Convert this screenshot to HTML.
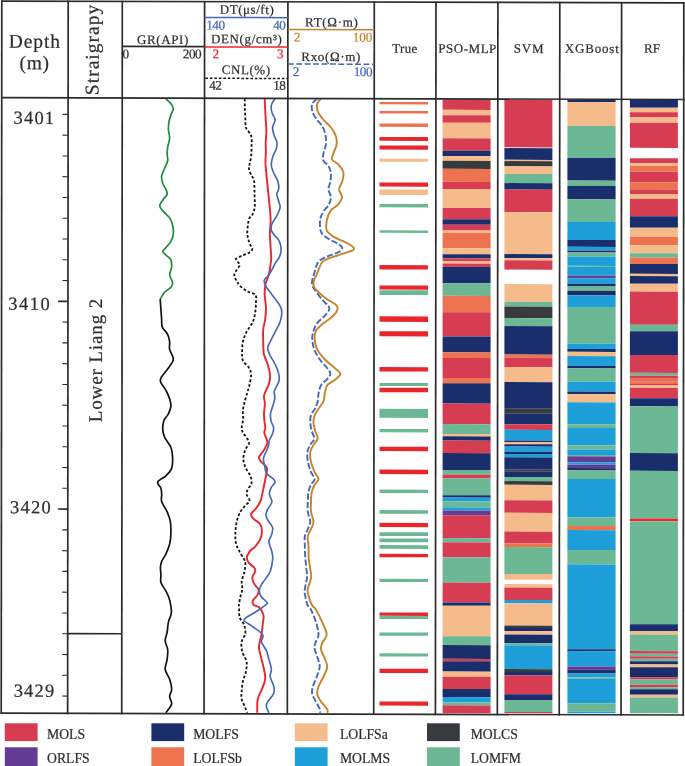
<!DOCTYPE html><html><head><meta charset="utf-8"><title>Well log lithofacies</title>
<style>html,body{margin:0;padding:0;background:#fff}svg{display:block}text{font-family:"Liberation Serif","DejaVu Serif",serif;stroke-width:0.22px;paint-order:stroke}</style></head><body>
<svg width="685" height="766" viewBox="0 0 685 766">
<rect width="685" height="766" fill="#fff"/>
<g transform="matrix(1 0.0026 -0.0008 1 0 0)">
</g><g transform="matrix(1 0.0026 0 1 0 0)">
<rect x="379.5" y="100.9" width="48.5" height="2.40" fill="#EC734D"/>
<rect x="379.5" y="109.9" width="48.5" height="2.50" fill="#EC734D"/>
<rect x="379.5" y="122.4" width="48.5" height="3.40" fill="#EC734D"/>
<rect x="379.5" y="136.0" width="48.5" height="3.80" fill="#E8262B"/>
<rect x="379.5" y="144.4" width="48.5" height="4.20" fill="#E8262B"/>
<rect x="379.5" y="157.7" width="48.5" height="3.00" fill="#F6BB8A"/>
<rect x="379.5" y="181.4" width="48.5" height="4.20" fill="#E8262B"/>
<rect x="379.5" y="188.4" width="48.5" height="5.60" fill="#F6BB8A"/>
<rect x="379.5" y="202.9" width="48.5" height="3.40" fill="#6DB894"/>
<rect x="379.5" y="229.3" width="48.5" height="2.50" fill="#6DB894"/>
<rect x="379.5" y="264.1" width="48.5" height="4.40" fill="#E8262B"/>
<rect x="379.5" y="284.4" width="48.5" height="4.20" fill="#E8262B"/>
<rect x="379.5" y="289.2" width="48.5" height="4.80" fill="#6DB894"/>
<rect x="379.5" y="315.3" width="48.5" height="5.50" fill="#E8262B"/>
<rect x="379.5" y="330.2" width="48.5" height="5.10" fill="#E8262B"/>
<rect x="379.5" y="366.1" width="48.5" height="4.40" fill="#E8262B"/>
<rect x="379.5" y="382.0" width="48.5" height="3.00" fill="#6DB894"/>
<rect x="379.5" y="386.7" width="48.5" height="4.50" fill="#E8262B"/>
<rect x="379.5" y="407.8" width="48.5" height="9.00" fill="#6DB894"/>
<rect x="379.5" y="428.0" width="48.5" height="3.30" fill="#6DB894"/>
<rect x="379.5" y="445.7" width="48.5" height="4.40" fill="#E8262B"/>
<rect x="379.5" y="468.6" width="48.5" height="4.50" fill="#E8262B"/>
<rect x="379.5" y="488.6" width="48.5" height="3.30" fill="#6DB894"/>
<rect x="379.5" y="509.1" width="48.5" height="3.60" fill="#6DB894"/>
<rect x="379.5" y="521.8" width="48.5" height="4.30" fill="#E8262B"/>
<rect x="379.5" y="531.2" width="48.5" height="3.70" fill="#6DB894"/>
<rect x="379.5" y="537.5" width="48.5" height="3.70" fill="#6DB894"/>
<rect x="379.5" y="544.1" width="48.5" height="3.70" fill="#6DB894"/>
<rect x="379.5" y="552.8" width="48.5" height="3.40" fill="#E8262B"/>
<rect x="379.5" y="577.8" width="48.5" height="3.20" fill="#6DB894"/>
<rect x="379.5" y="611.5" width="48.5" height="3.30" fill="#E8262B"/>
<rect x="379.5" y="614.8" width="48.5" height="3.20" fill="#6DB894"/>
<rect x="379.5" y="631.5" width="48.5" height="3.20" fill="#6DB894"/>
<rect x="379.5" y="652.3" width="48.5" height="3.20" fill="#6DB894"/>
<rect x="379.5" y="667.7" width="48.5" height="4.20" fill="#E8262B"/>
<rect x="379.5" y="700.5" width="48.5" height="4.10" fill="#E8262B"/>
<rect x="442.6" y="98.3" width="48.0" height="10.39" fill="#D63D52"/>
<rect x="442.6" y="108.7" width="48.0" height="5.30" fill="#F6BB8A"/>
<rect x="442.6" y="114.0" width="48.0" height="7.50" fill="#D63D52"/>
<rect x="442.6" y="121.5" width="48.0" height="15.60" fill="#F6BB8A"/>
<rect x="442.6" y="137.1" width="48.0" height="12.40" fill="#D63D52"/>
<rect x="442.6" y="149.5" width="48.0" height="5.40" fill="#1A2E6C"/>
<rect x="442.6" y="154.9" width="48.0" height="4.70" fill="#F6BB8A"/>
<rect x="442.6" y="159.6" width="48.0" height="8.00" fill="#373B3E"/>
<rect x="442.6" y="167.6" width="48.0" height="13.10" fill="#EC734D"/>
<rect x="442.6" y="180.7" width="48.0" height="7.10" fill="#D63D52"/>
<rect x="442.6" y="187.8" width="48.0" height="19.00" fill="#F6BB8A"/>
<rect x="442.6" y="206.8" width="48.0" height="11.20" fill="#D63D52"/>
<rect x="442.6" y="218.0" width="48.0" height="5.50" fill="#1A2E6C"/>
<rect x="442.6" y="223.5" width="48.0" height="5.80" fill="#D63D52"/>
<rect x="442.6" y="229.3" width="48.0" height="2.30" fill="#F6BB8A"/>
<rect x="442.6" y="231.6" width="48.0" height="15.50" fill="#EC734D"/>
<rect x="442.6" y="247.1" width="48.0" height="5.90" fill="#F6BB8A"/>
<rect x="442.6" y="253.0" width="48.0" height="4.10" fill="#1A2E6C"/>
<rect x="442.6" y="257.1" width="48.0" height="3.00" fill="#D63D52"/>
<rect x="442.6" y="260.1" width="48.0" height="2.30" fill="#F6BB8A"/>
<rect x="442.6" y="262.4" width="48.0" height="3.30" fill="#D63D52"/>
<rect x="442.6" y="265.7" width="48.0" height="16.30" fill="#1A2E6C"/>
<rect x="442.6" y="282.0" width="48.0" height="12.70" fill="#6DB894"/>
<rect x="442.6" y="294.7" width="48.0" height="16.30" fill="#EC734D"/>
<rect x="442.6" y="311.0" width="48.0" height="24.30" fill="#D63D52"/>
<rect x="442.6" y="335.3" width="48.0" height="15.90" fill="#1A2E6C"/>
<rect x="442.6" y="351.2" width="48.0" height="5.60" fill="#EC734D"/>
<rect x="442.6" y="356.8" width="48.0" height="20.00" fill="#D63D52"/>
<rect x="442.6" y="376.8" width="48.0" height="5.20" fill="#EC734D"/>
<rect x="442.6" y="382.0" width="48.0" height="20.40" fill="#1A2E6C"/>
<rect x="442.6" y="402.4" width="48.0" height="20.50" fill="#D63D52"/>
<rect x="442.6" y="422.9" width="48.0" height="9.90" fill="#6DB894"/>
<rect x="442.6" y="432.8" width="48.0" height="2.30" fill="#F6BB8A"/>
<rect x="442.6" y="435.1" width="48.0" height="4.30" fill="#1A2E6C"/>
<rect x="442.6" y="439.4" width="48.0" height="12.50" fill="#D63D52"/>
<rect x="442.6" y="451.9" width="48.0" height="16.90" fill="#1A2E6C"/>
<rect x="442.6" y="468.8" width="48.0" height="4.60" fill="#6DB894"/>
<rect x="442.6" y="473.4" width="48.0" height="3.80" fill="#D63D52"/>
<rect x="442.6" y="477.2" width="48.0" height="16.80" fill="#6DB894"/>
<rect x="442.6" y="494.0" width="48.0" height="2.40" fill="#1A2E6C"/>
<rect x="442.6" y="496.4" width="48.0" height="3.70" fill="#1F9FD9"/>
<rect x="442.6" y="500.1" width="48.0" height="6.00" fill="#6DB894"/>
<rect x="442.6" y="506.1" width="48.0" height="3.20" fill="#1F9FD9"/>
<rect x="442.6" y="509.3" width="48.0" height="4.70" fill="#633C94"/>
<rect x="442.6" y="514.0" width="48.0" height="22.90" fill="#D63D52"/>
<rect x="442.6" y="536.9" width="48.0" height="4.20" fill="#6DB894"/>
<rect x="442.6" y="541.1" width="48.0" height="14.90" fill="#D63D52"/>
<rect x="442.6" y="556.0" width="48.0" height="25.40" fill="#6DB894"/>
<rect x="442.6" y="581.4" width="48.0" height="19.90" fill="#D63D52"/>
<rect x="442.6" y="601.3" width="48.0" height="3.20" fill="#1A2E6C"/>
<rect x="442.6" y="604.5" width="48.0" height="30.50" fill="#F6BB8A"/>
<rect x="442.6" y="635.0" width="48.0" height="8.90" fill="#6DB894"/>
<rect x="442.6" y="643.9" width="48.0" height="13.80" fill="#1A2E6C"/>
<rect x="442.6" y="657.7" width="48.0" height="2.30" fill="#D63D52"/>
<rect x="442.6" y="660.0" width="48.0" height="10.40" fill="#1A2E6C"/>
<rect x="442.6" y="670.4" width="48.0" height="5.10" fill="#F6BB8A"/>
<rect x="442.6" y="675.5" width="48.0" height="12.30" fill="#D63D52"/>
<rect x="442.6" y="687.8" width="48.0" height="8.10" fill="#1A2E6C"/>
<rect x="442.6" y="695.9" width="48.0" height="5.30" fill="#1F9FD9"/>
<rect x="442.6" y="701.2" width="48.0" height="2.90" fill="#6DB894"/>
<rect x="442.6" y="704.1" width="48.0" height="7.90" fill="#D63D52"/>
<rect x="504.4" y="98.3" width="48.0" height="47.73" fill="#D63D52"/>
<rect x="504.4" y="146.8" width="48.0" height="11.70" fill="#1A2E6C"/>
<rect x="504.4" y="158.5" width="48.0" height="1.30" fill="#F6BB8A"/>
<rect x="504.4" y="159.8" width="48.0" height="5.20" fill="#373B3E"/>
<rect x="504.4" y="165.0" width="48.0" height="7.60" fill="#F6BB8A"/>
<rect x="504.4" y="172.6" width="48.0" height="9.20" fill="#6DB894"/>
<rect x="504.4" y="181.8" width="48.0" height="6.50" fill="#1A2E6C"/>
<rect x="504.4" y="188.3" width="48.0" height="22.50" fill="#D63D52"/>
<rect x="504.4" y="210.8" width="48.0" height="42.00" fill="#F6BB8A"/>
<rect x="504.4" y="252.8" width="48.0" height="4.10" fill="#1A2E6C"/>
<rect x="504.4" y="256.9" width="48.0" height="2.10" fill="#F6BB8A"/>
<rect x="504.4" y="259.0" width="48.0" height="9.30" fill="#D63D52"/>
<rect x="504.4" y="282.7" width="48.0" height="17.80" fill="#F6BB8A"/>
<rect x="504.4" y="300.5" width="48.0" height="4.70" fill="#6DB894"/>
<rect x="504.4" y="305.2" width="48.0" height="11.50" fill="#373B3E"/>
<rect x="504.4" y="316.7" width="48.0" height="8.10" fill="#6DB894"/>
<rect x="504.4" y="324.8" width="48.0" height="28.40" fill="#1A2E6C"/>
<rect x="504.4" y="353.2" width="48.0" height="3.20" fill="#EC734D"/>
<rect x="504.4" y="356.4" width="48.0" height="9.30" fill="#D63D52"/>
<rect x="504.4" y="365.7" width="48.0" height="15.00" fill="#F6BB8A"/>
<rect x="504.4" y="380.7" width="48.0" height="26.70" fill="#1A2E6C"/>
<rect x="504.4" y="407.4" width="48.0" height="5.00" fill="#373B3E"/>
<rect x="504.4" y="412.4" width="48.0" height="10.50" fill="#1A2E6C"/>
<rect x="504.4" y="422.9" width="48.0" height="5.60" fill="#D63D52"/>
<rect x="504.4" y="428.5" width="48.0" height="10.70" fill="#1F9FD9"/>
<rect x="504.4" y="439.2" width="48.0" height="1.50" fill="#1A2E6C"/>
<rect x="504.4" y="440.7" width="48.0" height="2.20" fill="#F6BB8A"/>
<rect x="504.4" y="442.9" width="48.0" height="2.40" fill="#1A2E6C"/>
<rect x="504.4" y="445.3" width="48.0" height="5.10" fill="#1F9FD9"/>
<rect x="504.4" y="450.4" width="48.0" height="2.20" fill="#1A2E6C"/>
<rect x="504.4" y="452.6" width="48.0" height="3.40" fill="#1F9FD9"/>
<rect x="504.4" y="456.0" width="48.0" height="12.20" fill="#1A2E6C"/>
<rect x="504.4" y="468.2" width="48.0" height="2.20" fill="#373B3E"/>
<rect x="504.4" y="470.4" width="48.0" height="5.20" fill="#1A2E6C"/>
<rect x="504.4" y="475.6" width="48.0" height="4.20" fill="#6DB894"/>
<rect x="504.4" y="479.8" width="48.0" height="3.70" fill="#373B3E"/>
<rect x="504.4" y="483.5" width="48.0" height="15.50" fill="#F6BB8A"/>
<rect x="504.4" y="499.0" width="48.0" height="12.50" fill="#D63D52"/>
<rect x="504.4" y="511.5" width="48.0" height="18.70" fill="#F6BB8A"/>
<rect x="504.4" y="530.2" width="48.0" height="11.80" fill="#D63D52"/>
<rect x="504.4" y="542.0" width="48.0" height="3.70" fill="#EC734D"/>
<rect x="504.4" y="545.7" width="48.0" height="26.90" fill="#6DB894"/>
<rect x="504.4" y="572.6" width="48.0" height="5.80" fill="#F6BB8A"/>
<rect x="504.4" y="582.7" width="48.0" height="3.60" fill="#F6BB8A"/>
<rect x="504.4" y="586.3" width="48.0" height="12.30" fill="#D63D52"/>
<rect x="504.4" y="598.6" width="48.0" height="3.40" fill="#1F9FD9"/>
<rect x="504.4" y="602.0" width="48.0" height="22.20" fill="#F6BB8A"/>
<rect x="504.4" y="624.2" width="48.0" height="2.40" fill="#373B3E"/>
<rect x="504.4" y="626.6" width="48.0" height="3.20" fill="#1A2E6C"/>
<rect x="504.4" y="629.8" width="48.0" height="3.40" fill="#F6BB8A"/>
<rect x="504.4" y="633.2" width="48.0" height="8.60" fill="#1A2E6C"/>
<rect x="504.4" y="641.8" width="48.0" height="2.20" fill="#6DB894"/>
<rect x="504.4" y="644.0" width="48.0" height="23.70" fill="#1F9FD9"/>
<rect x="504.4" y="667.7" width="48.0" height="2.90" fill="#373B3E"/>
<rect x="504.4" y="670.6" width="48.0" height="3.40" fill="#1A2E6C"/>
<rect x="504.4" y="674.0" width="48.0" height="18.90" fill="#D63D52"/>
<rect x="504.4" y="692.9" width="48.0" height="5.70" fill="#1A2E6C"/>
<rect x="504.4" y="698.6" width="48.0" height="12.00" fill="#6DB894"/>
<rect x="504.4" y="710.6" width="48.0" height="1.20" fill="#D63D52"/>
<rect x="567.4" y="98.3" width="48.2" height="2.26" fill="#1A2E6C"/>
<rect x="567.4" y="100.6" width="48.2" height="23.70" fill="#F6BB8A"/>
<rect x="567.4" y="124.3" width="48.2" height="32.20" fill="#6DB894"/>
<rect x="567.4" y="156.5" width="48.2" height="22.60" fill="#1A2E6C"/>
<rect x="567.4" y="179.1" width="48.2" height="5.40" fill="#6DB894"/>
<rect x="567.4" y="184.5" width="48.2" height="13.30" fill="#1A2E6C"/>
<rect x="567.4" y="197.8" width="48.2" height="22.70" fill="#6DB894"/>
<rect x="567.4" y="220.5" width="48.2" height="17.90" fill="#1F9FD9"/>
<rect x="567.4" y="238.4" width="48.2" height="6.90" fill="#1A2E6C"/>
<rect x="567.4" y="245.3" width="48.2" height="3.70" fill="#1F9FD9"/>
<rect x="567.4" y="249.0" width="48.2" height="1.90" fill="#1A2E6C"/>
<rect x="567.4" y="250.9" width="48.2" height="4.10" fill="#6DB894"/>
<rect x="567.4" y="255.0" width="48.2" height="9.30" fill="#1F9FD9"/>
<rect x="567.4" y="264.3" width="48.2" height="1.00" fill="#6DB894"/>
<rect x="567.4" y="265.3" width="48.2" height="8.90" fill="#1F9FD9"/>
<rect x="567.4" y="274.2" width="48.2" height="2.50" fill="#633C94"/>
<rect x="567.4" y="276.7" width="48.2" height="5.60" fill="#1F9FD9"/>
<rect x="567.4" y="282.3" width="48.2" height="2.20" fill="#1A2E6C"/>
<rect x="567.4" y="284.5" width="48.2" height="4.70" fill="#6DB894"/>
<rect x="567.4" y="289.2" width="48.2" height="4.60" fill="#1A2E6C"/>
<rect x="567.4" y="293.8" width="48.2" height="11.60" fill="#1F9FD9"/>
<rect x="567.4" y="305.4" width="48.2" height="36.80" fill="#6DB894"/>
<rect x="567.4" y="342.2" width="48.2" height="5.30" fill="#1F9FD9"/>
<rect x="567.4" y="347.5" width="48.2" height="2.80" fill="#1A2E6C"/>
<rect x="567.4" y="350.3" width="48.2" height="4.30" fill="#F6BB8A"/>
<rect x="567.4" y="354.6" width="48.2" height="9.70" fill="#1F9FD9"/>
<rect x="567.4" y="364.3" width="48.2" height="2.50" fill="#1A2E6C"/>
<rect x="567.4" y="366.8" width="48.2" height="13.40" fill="#6DB894"/>
<rect x="567.4" y="380.2" width="48.2" height="9.90" fill="#1F9FD9"/>
<rect x="567.4" y="390.1" width="48.2" height="2.30" fill="#1A2E6C"/>
<rect x="567.4" y="392.4" width="48.2" height="8.40" fill="#F6BB8A"/>
<rect x="567.4" y="400.8" width="48.2" height="22.00" fill="#1F9FD9"/>
<rect x="567.4" y="422.8" width="48.2" height="3.70" fill="#6DB894"/>
<rect x="567.4" y="426.5" width="48.2" height="17.20" fill="#1F9FD9"/>
<rect x="567.4" y="443.7" width="48.2" height="4.20" fill="#6DB894"/>
<rect x="567.4" y="447.9" width="48.2" height="5.60" fill="#1F9FD9"/>
<rect x="567.4" y="453.5" width="48.2" height="1.30" fill="#6DB894"/>
<rect x="567.4" y="454.8" width="48.2" height="6.20" fill="#633C94"/>
<rect x="567.4" y="461.0" width="48.2" height="2.20" fill="#1F9FD9"/>
<rect x="567.4" y="463.2" width="48.2" height="3.40" fill="#633C94"/>
<rect x="567.4" y="466.6" width="48.2" height="2.20" fill="#1A2E6C"/>
<rect x="567.4" y="468.8" width="48.2" height="8.60" fill="#6DB894"/>
<rect x="567.4" y="477.4" width="48.2" height="38.30" fill="#1F9FD9"/>
<rect x="567.4" y="515.7" width="48.2" height="8.80" fill="#6DB894"/>
<rect x="567.4" y="524.5" width="48.2" height="4.10" fill="#EC734D"/>
<rect x="567.4" y="528.6" width="48.2" height="19.80" fill="#1F9FD9"/>
<rect x="567.4" y="548.4" width="48.2" height="14.40" fill="#6DB894"/>
<rect x="567.4" y="562.8" width="48.2" height="84.90" fill="#1F9FD9"/>
<rect x="567.4" y="647.7" width="48.2" height="1.90" fill="#1A2E6C"/>
<rect x="567.4" y="649.6" width="48.2" height="15.40" fill="#1F9FD9"/>
<rect x="567.4" y="665.0" width="48.2" height="3.20" fill="#633C94"/>
<rect x="567.4" y="668.2" width="48.2" height="3.80" fill="#1A2E6C"/>
<rect x="567.4" y="672.0" width="48.2" height="3.80" fill="#1F9FD9"/>
<rect x="567.4" y="675.8" width="48.2" height="1.50" fill="#6DB894"/>
<rect x="567.4" y="677.3" width="48.2" height="24.40" fill="#1F9FD9"/>
<rect x="567.4" y="701.7" width="48.2" height="8.50" fill="#6DB894"/>
<rect x="567.4" y="710.2" width="48.2" height="1.50" fill="#1F9FD9"/>
<rect x="629.9" y="98.3" width="48.0" height="7.70" fill="#1A2E6C"/>
<rect x="629.9" y="106.0" width="48.0" height="4.50" fill="#F6BB8A"/>
<rect x="629.9" y="110.5" width="48.0" height="5.20" fill="#D63D52"/>
<rect x="629.9" y="115.7" width="48.0" height="5.30" fill="#F6BB8A"/>
<rect x="629.9" y="121.0" width="48.0" height="25.20" fill="#D63D52"/>
<rect x="629.9" y="156.5" width="48.0" height="5.00" fill="#D63D52"/>
<rect x="629.9" y="161.5" width="48.0" height="2.80" fill="#F6BB8A"/>
<rect x="629.9" y="164.3" width="48.0" height="5.60" fill="#EC734D"/>
<rect x="629.9" y="169.9" width="48.0" height="10.70" fill="#D63D52"/>
<rect x="629.9" y="180.6" width="48.0" height="7.10" fill="#EC734D"/>
<rect x="629.9" y="187.7" width="48.0" height="4.60" fill="#D63D52"/>
<rect x="629.9" y="192.3" width="48.0" height="4.70" fill="#F6BB8A"/>
<rect x="629.9" y="197.0" width="48.0" height="17.50" fill="#D63D52"/>
<rect x="629.9" y="214.5" width="48.0" height="11.50" fill="#1A2E6C"/>
<rect x="629.9" y="226.0" width="48.0" height="9.20" fill="#F6BB8A"/>
<rect x="629.9" y="235.2" width="48.0" height="8.40" fill="#EC734D"/>
<rect x="629.9" y="243.6" width="48.0" height="8.00" fill="#F6BB8A"/>
<rect x="629.9" y="251.6" width="48.0" height="4.30" fill="#6DB894"/>
<rect x="629.9" y="255.9" width="48.0" height="6.40" fill="#EC734D"/>
<rect x="629.9" y="262.3" width="48.0" height="9.90" fill="#1A2E6C"/>
<rect x="629.9" y="272.2" width="48.0" height="2.20" fill="#F6BB8A"/>
<rect x="629.9" y="274.4" width="48.0" height="7.70" fill="#1A2E6C"/>
<rect x="629.9" y="282.1" width="48.0" height="7.80" fill="#F6BB8A"/>
<rect x="629.9" y="289.9" width="48.0" height="33.10" fill="#D63D52"/>
<rect x="629.9" y="323.0" width="48.0" height="6.50" fill="#6DB894"/>
<rect x="629.9" y="329.5" width="48.0" height="23.80" fill="#1A2E6C"/>
<rect x="629.9" y="353.3" width="48.0" height="17.90" fill="#D63D52"/>
<rect x="629.9" y="371.2" width="48.0" height="2.80" fill="#6DB894"/>
<rect x="629.9" y="374.0" width="48.0" height="2.30" fill="#D63D52"/>
<rect x="629.9" y="376.3" width="48.0" height="2.30" fill="#EC734D"/>
<rect x="629.9" y="378.6" width="48.0" height="1.20" fill="#D63D52"/>
<rect x="629.9" y="379.8" width="48.0" height="2.50" fill="#EC734D"/>
<rect x="629.9" y="382.3" width="48.0" height="1.40" fill="#D63D52"/>
<rect x="629.9" y="383.7" width="48.0" height="2.50" fill="#F6BB8A"/>
<rect x="629.9" y="386.2" width="48.0" height="10.30" fill="#D63D52"/>
<rect x="629.9" y="396.5" width="48.0" height="8.20" fill="#1A2E6C"/>
<rect x="629.9" y="404.7" width="48.0" height="46.70" fill="#6DB894"/>
<rect x="629.9" y="451.4" width="48.0" height="17.80" fill="#1A2E6C"/>
<rect x="629.9" y="469.2" width="48.0" height="47.60" fill="#6DB894"/>
<rect x="629.9" y="516.8" width="48.0" height="2.80" fill="#E8262B"/>
<rect x="629.9" y="519.6" width="48.0" height="102.90" fill="#6DB894"/>
<rect x="629.9" y="622.5" width="48.0" height="7.00" fill="#1A2E6C"/>
<rect x="629.9" y="629.5" width="48.0" height="3.40" fill="#F6BB8A"/>
<rect x="629.9" y="632.9" width="48.0" height="16.50" fill="#6DB894"/>
<rect x="629.9" y="649.4" width="48.0" height="2.70" fill="#D63D52"/>
<rect x="629.9" y="652.1" width="48.0" height="2.60" fill="#6DB894"/>
<rect x="629.9" y="654.7" width="48.0" height="2.30" fill="#D63D52"/>
<rect x="629.9" y="657.0" width="48.0" height="2.50" fill="#6DB894"/>
<rect x="629.9" y="659.5" width="48.0" height="3.20" fill="#1A2E6C"/>
<rect x="629.9" y="662.7" width="48.0" height="2.80" fill="#F6BB8A"/>
<rect x="629.9" y="665.5" width="48.0" height="10.10" fill="#1A2E6C"/>
<rect x="629.9" y="675.6" width="48.0" height="2.20" fill="#D63D52"/>
<rect x="629.9" y="677.8" width="48.0" height="5.30" fill="#6DB894"/>
<rect x="629.9" y="683.1" width="48.0" height="2.30" fill="#D63D52"/>
<rect x="629.9" y="685.4" width="48.0" height="2.10" fill="#6DB894"/>
<rect x="629.9" y="687.5" width="48.0" height="5.50" fill="#1A2E6C"/>
<rect x="629.9" y="693.0" width="48.0" height="2.80" fill="#F6BB8A"/>
<rect x="629.9" y="695.8" width="48.0" height="15.70" fill="#6DB894"/>
</g><g transform="matrix(1 0.0026 -0.0008 1 0 0)">
<clipPath id="cp"><rect x="0" y="98.4" width="685" height="614.2"/></clipPath>
<g clip-path="url(#cp)" fill="none" stroke-linejoin="round">
<path d="M166.0 98.3C166.8 99.1 169.7 101.6 171.0 103.2C172.2 104.9 173.4 106.3 173.4 108.2C173.4 110.1 171.7 112.1 171.0 114.4C170.2 116.7 169.4 119.4 169.0 121.9C168.6 124.3 168.4 126.6 168.5 129.3C168.6 132.0 169.9 135.1 169.7 138.0C169.6 140.9 168.2 144.0 167.8 146.7C167.4 149.4 167.3 151.9 167.3 154.1C167.3 156.4 168.2 158.1 167.8 160.3C167.4 162.6 165.8 165.3 164.8 167.8C163.8 170.3 162.2 172.8 161.8 175.2C161.5 177.7 162.1 180.4 162.8 182.7C163.5 185.0 165.3 187.0 166.1 188.9C166.8 190.7 167.7 192.2 167.3 193.8C166.9 195.5 164.8 196.9 163.6 198.8C162.4 200.7 159.9 203.0 159.9 205.0C159.9 207.1 161.9 209.2 163.6 211.2C165.3 213.3 168.3 215.1 169.8 217.4C171.3 219.7 172.2 222.2 172.8 224.8C173.4 227.5 173.8 230.8 173.5 233.5C173.3 236.2 172.3 238.7 171.1 241.0C169.8 243.3 167.5 245.5 166.1 247.2C164.7 248.9 162.9 249.7 162.9 250.9C162.9 252.2 164.8 253.1 166.1 254.6C167.5 256.0 170.1 257.5 171.1 259.5C172.0 261.6 172.0 264.5 171.8 267.0C171.6 269.4 169.7 271.9 169.9 274.4C170.0 276.9 172.6 279.8 172.8 281.9C173.0 283.9 172.4 285.2 171.1 286.8C169.8 288.5 166.7 289.8 164.9 291.8C163.1 293.8 161.2 297.6 160.4 298.8" stroke="#1f8a3d" stroke-width="1.7"/>
<path d="M160.4 298.8C160.6 300.5 160.9 305.8 161.2 309.2C161.4 312.6 161.7 316.2 161.9 319.1C162.2 322.0 161.5 324.1 162.5 326.5C163.4 329.0 166.7 331.5 167.9 334.0C169.2 336.5 169.6 338.9 169.9 341.4C170.2 343.9 169.3 346.0 169.9 348.9C170.5 351.8 173.8 355.7 173.6 358.8C173.4 361.9 170.8 364.4 168.7 367.5C166.6 370.6 162.5 374.9 161.3 377.4C160.0 379.9 160.4 380.3 161.3 382.4C162.1 384.5 164.8 387.1 166.2 389.8C167.7 392.5 169.1 395.8 170.0 398.5C170.8 401.2 171.4 403.5 171.2 405.9C171.0 408.4 169.8 411.1 168.7 413.4C167.6 415.7 165.5 417.1 164.5 419.5C163.6 422.0 162.9 425.3 163.0 428.2C163.1 431.1 163.7 433.8 165.0 436.9C166.4 440.0 169.9 443.3 171.2 446.8C172.6 450.3 172.9 454.5 173.0 458.0C173.1 461.5 173.1 465.0 172.0 467.9C170.9 470.8 168.6 473.1 166.3 475.4C164.0 477.7 158.9 479.5 158.1 481.6C157.3 483.7 160.7 485.7 161.3 487.8C162.0 489.9 162.0 491.7 162.1 494.0C162.2 496.3 161.2 498.5 162.1 501.4C163.0 504.3 166.1 508.0 167.6 511.4C169.0 514.7 170.2 517.6 170.8 521.3C171.4 525.0 171.4 530.0 171.3 533.7C171.2 537.4 170.9 540.3 170.1 543.6C169.2 546.9 167.7 550.6 166.4 553.5C165.0 556.4 163.1 558.7 162.1 561.0C161.2 563.3 161.0 564.9 160.9 567.2C160.8 569.5 161.3 572.1 161.4 574.6C161.5 577.1 160.6 579.3 161.4 582.0C162.2 584.7 164.9 587.8 166.4 590.7C167.8 593.6 169.2 595.9 170.1 599.4C171.0 602.9 172.1 608.1 171.9 611.8C171.7 615.5 169.6 618.4 168.9 621.7C168.2 625.0 168.2 628.5 167.7 631.6C167.1 634.7 165.6 637.4 165.7 640.3C165.8 643.2 167.8 645.9 168.2 649.0C168.5 652.1 168.1 655.6 167.7 658.9C167.3 662.3 165.3 665.6 165.7 668.9C166.1 672.2 169.1 675.5 170.2 678.8C171.3 682.1 172.2 685.8 172.2 688.7C172.2 691.6 170.2 693.7 170.2 696.2C170.2 698.6 172.8 700.9 172.2 703.6C171.6 706.3 167.4 710.9 166.5 712.3" stroke="#111" stroke-width="1.7"/>
<path d="M244.9 98.1C244.9 99.5 244.8 103.7 244.9 106.8C245.0 109.9 245.3 113.4 245.4 116.7C245.6 120.0 245.3 124.1 245.9 126.6C246.5 129.1 248.2 129.9 249.2 131.6C250.1 133.2 251.2 134.1 251.6 136.5C252.1 139.0 251.7 143.2 251.7 146.5C251.6 149.8 251.5 153.5 251.2 156.4C250.8 159.3 250.0 161.8 249.7 163.8C249.3 165.9 248.9 166.9 249.2 168.8C249.5 170.7 250.8 173.1 251.7 175.0C252.5 176.9 253.7 176.9 254.2 180.0C254.7 183.1 254.5 189.3 254.7 193.6C254.8 198.0 255.2 202.7 254.9 206.0C254.6 209.3 253.9 211.4 252.9 213.5C252.0 215.5 250.1 215.6 249.2 218.4C248.3 221.3 247.7 227.6 247.5 230.7C247.3 233.7 247.7 234.9 248.1 237.0C248.5 239.0 249.3 241.3 250.0 243.2C250.7 245.0 252.6 246.8 252.5 248.2C252.4 249.7 251.2 250.8 249.4 252.0C247.6 253.1 244.1 254.1 241.9 255.2C239.7 256.2 236.8 257.3 236.2 258.3C235.6 259.3 237.5 260.3 238.1 261.4C238.7 262.4 240.1 263.4 240.0 264.6C239.9 265.7 238.4 266.8 237.5 268.3C236.6 269.8 235.1 271.9 234.7 273.4C234.3 274.9 234.6 275.8 235.0 277.1C235.5 278.3 236.8 279.7 237.5 280.9C238.3 282.1 237.9 282.8 239.4 284.4C241.0 286.0 244.1 288.7 246.8 290.3C249.5 292.0 253.9 292.2 255.5 294.0C257.1 295.9 256.2 298.6 256.2 301.5C256.2 304.4 256.0 308.1 255.5 311.4C255.0 314.7 254.5 318.0 253.0 321.4C251.6 324.7 248.5 328.0 246.8 331.3C245.2 334.6 243.9 337.7 243.1 341.2C242.4 344.7 242.4 349.3 242.4 352.4C242.4 355.5 242.0 357.4 243.1 359.8C244.3 362.3 248.0 364.8 249.3 367.3C250.7 369.8 251.3 371.6 251.3 374.7C251.3 377.8 250.0 383.0 249.4 385.9C248.7 388.7 248.3 389.4 247.6 391.9C246.9 394.3 245.9 397.7 245.1 400.7C244.4 403.6 243.5 406.5 243.2 409.5C243.0 412.4 243.7 415.3 243.5 418.3C243.3 421.2 242.1 424.8 242.0 427.1C242.0 429.4 242.4 430.4 243.2 432.1C244.1 433.7 246.0 435.3 247.1 437.1C248.1 438.8 249.5 440.7 249.3 442.8C249.0 444.8 246.6 446.6 245.7 449.1C244.8 451.6 243.7 454.9 243.7 457.8C243.7 460.7 244.5 463.6 245.7 466.5C246.9 469.4 249.6 472.5 250.7 475.2C251.7 477.8 252.3 480.3 251.9 482.6C251.5 484.9 249.0 486.9 248.2 488.8C247.4 490.7 246.7 491.9 247.0 493.8C247.3 495.6 250.2 498.1 249.9 500.0C249.7 501.8 247.3 503.1 245.7 504.9C244.2 506.8 242.2 508.5 240.8 511.2C239.3 513.9 237.9 517.4 237.1 521.1C236.2 524.8 235.9 529.8 235.8 533.5C235.7 537.2 235.8 540.5 236.6 543.4C237.3 546.4 238.9 548.7 240.2 551.3C241.6 553.8 243.7 556.8 244.6 558.8C245.6 560.7 245.8 561.1 245.9 563.2C245.9 565.3 245.5 568.4 244.9 571.4C244.2 574.3 242.5 578.0 242.2 580.8C241.8 583.6 243.0 585.8 242.8 588.3C242.6 590.8 241.4 593.2 240.9 595.9C240.3 598.6 239.6 602.6 239.4 604.4C239.2 606.2 239.5 604.6 239.6 606.6C239.7 608.7 239.3 613.7 240.1 616.6C240.9 619.5 243.6 621.3 244.6 624.0C245.5 626.7 246.2 629.8 245.8 632.7C245.4 635.6 242.6 638.3 242.1 641.4C241.6 644.5 242.0 648.0 242.9 651.3C243.7 654.6 246.5 657.9 247.1 661.2C247.7 664.5 247.0 667.8 246.4 671.1C245.7 674.5 244.1 677.8 243.4 681.1C242.7 684.4 242.4 688.1 242.2 691.0C242.0 693.9 241.6 696.0 242.2 698.5C242.7 700.9 244.5 703.6 245.4 705.9C246.3 708.2 247.3 711.1 247.6 712.1" stroke="#111" stroke-width="1.8" stroke-dasharray="2.7 2"/>
<path d="M264.8 98.0C264.8 99.9 265.1 105.3 265.3 109.2C265.5 113.1 265.8 117.9 266.0 121.6C266.2 125.3 266.6 128.2 266.5 131.5C266.5 134.8 265.9 138.2 265.8 141.5C265.7 144.8 266.1 148.1 266.0 151.4C266.0 154.7 265.5 157.6 265.6 161.3C265.6 165.0 266.2 169.6 266.6 173.7C266.9 177.9 267.4 182.0 267.8 186.1C268.2 190.3 268.6 194.4 269.1 198.5C269.5 202.7 270.0 207.2 270.3 210.9C270.6 214.7 270.9 217.4 270.8 220.9C270.8 224.3 270.2 228.5 270.1 231.8C270.0 235.1 270.2 237.7 270.4 240.6C270.5 243.5 270.8 246.5 271.0 249.4C271.2 252.3 271.5 255.5 271.4 258.2C271.3 260.9 270.8 263.4 270.5 265.7C270.2 268.0 270.0 269.9 269.5 272.0C269.0 274.1 268.3 276.4 267.6 278.3C267.0 280.2 266.2 280.7 265.7 283.3C265.3 285.9 264.8 290.2 264.9 294.0C265.0 297.9 266.1 302.3 266.2 306.4C266.3 310.6 265.9 315.1 265.4 318.8C265.0 322.6 263.8 325.0 263.5 328.8C263.1 332.5 263.3 337.0 263.5 341.2C263.6 345.3 263.5 349.9 264.2 353.6C265.0 357.3 266.9 360.0 268.0 363.5C269.0 367.0 270.2 371.4 270.4 374.7C270.7 378.0 269.9 380.9 269.2 383.4C268.5 385.8 267.2 387.3 266.4 389.3C265.6 391.4 264.5 393.3 264.3 395.6C264.1 397.9 265.2 400.2 265.2 403.1C265.2 406.0 264.4 410.3 264.3 413.2C264.3 416.1 264.6 418.4 264.8 420.7C265.1 423.0 265.7 425.1 265.6 427.0C265.6 428.9 264.5 430.3 264.6 432.0C264.8 433.7 265.9 435.4 266.5 437.0C267.0 438.6 267.7 440.2 267.8 441.4C267.8 442.6 267.5 442.8 266.9 444.3C266.2 445.8 265.1 448.3 263.8 450.3C262.6 452.3 259.7 454.7 259.3 456.5C259.0 458.4 260.5 459.6 261.8 461.5C263.2 463.3 266.7 464.8 267.3 467.7C267.9 470.6 266.3 474.9 265.6 478.8C264.9 482.8 263.9 487.5 263.1 491.3C262.3 495.0 261.9 498.3 260.6 501.2C259.4 504.1 257.2 506.6 255.7 508.6C254.1 510.7 251.7 512.0 251.4 513.6C251.2 515.3 252.9 516.9 254.4 518.6C256.0 520.2 259.3 521.5 260.6 523.5C262.0 525.6 262.4 528.5 262.4 531.0C262.4 533.4 261.8 535.9 260.7 538.4C259.5 540.9 257.2 544.0 255.7 545.9C254.2 547.7 252.9 547.6 251.5 549.3C250.1 551.1 247.8 554.2 247.3 556.3C246.9 558.4 247.8 560.2 249.1 562.0C250.3 563.7 253.6 565.5 254.7 566.9C255.8 568.4 256.0 569.1 255.7 570.7C255.3 572.4 252.9 574.9 252.8 576.9C252.6 579.0 253.6 581.2 254.7 583.2C255.7 585.2 258.5 587.0 259.1 588.9C259.6 590.8 258.8 592.8 257.9 594.5C256.9 596.3 254.1 597.9 253.5 599.5C252.8 601.2 253.1 603.2 254.1 604.3C255.1 605.5 257.8 605.0 259.5 606.6C261.1 608.2 263.3 611.1 263.9 614.0C264.6 616.9 263.5 620.6 263.2 624.0C262.9 627.3 262.6 630.2 262.0 633.9C261.4 637.6 259.6 642.6 259.5 646.3C259.4 650.0 260.7 652.5 261.5 656.2C262.3 659.9 263.8 664.9 264.5 668.6C265.2 672.3 266.1 675.2 265.7 678.5C265.4 681.9 263.7 685.2 262.5 688.5C261.3 691.8 259.1 694.5 258.3 698.4C257.5 702.3 257.9 709.8 257.8 712.1" stroke="#E8262B" stroke-width="1.9"/>
<path d="M275.2 98.0C274.6 99.0 272.0 101.9 271.5 104.2C270.9 106.5 271.4 109.2 272.0 111.7C272.6 114.1 275.1 116.6 275.2 119.1C275.3 121.6 272.9 124.1 272.7 126.6C272.5 129.0 273.3 131.5 274.0 134.0C274.7 136.5 276.5 139.2 277.0 141.4C277.4 143.7 277.2 145.2 276.5 147.6C275.8 150.1 273.6 153.4 272.8 156.3C271.9 159.2 271.3 162.3 271.5 165.0C271.7 167.7 273.0 170.0 274.0 172.5C275.0 174.9 276.9 177.4 277.7 179.9C278.6 182.4 279.1 185.1 279.0 187.3C278.9 189.6 277.0 191.3 277.0 193.6C277.0 195.8 278.5 198.7 279.0 201.0C279.5 203.3 280.7 204.7 280.2 207.2C279.8 209.7 277.9 213.2 276.5 215.9C275.2 218.6 272.9 221.1 272.1 223.3C271.2 225.6 271.0 227.5 271.4 229.3C271.8 231.1 273.2 232.6 274.5 234.3C275.7 236.0 277.8 237.5 278.9 239.4C280.0 241.3 280.6 243.5 281.0 245.6C281.3 247.7 281.4 249.9 281.0 251.9C280.7 253.9 279.9 255.7 278.9 257.6C277.9 259.5 276.2 261.4 275.1 263.2C274.1 265.0 273.6 266.3 272.6 268.2C271.6 270.1 270.3 272.6 268.9 274.5C267.6 276.4 265.2 278.0 264.5 279.5C263.9 281.0 264.8 282.1 265.1 283.3C265.5 284.5 265.2 284.4 266.7 286.6C268.1 288.8 271.8 293.4 274.1 296.5C276.4 299.6 279.0 302.7 280.3 305.1C281.6 307.6 282.1 308.7 282.1 311.3C282.1 314.0 281.4 318.0 280.3 321.3C279.2 324.6 277.0 327.9 275.4 331.2C273.7 334.5 271.7 338.5 270.4 341.2C269.2 343.9 267.9 345.1 267.9 347.4C267.9 349.6 269.2 352.1 270.4 354.8C271.7 357.5 274.0 360.4 275.4 363.5C276.9 366.6 278.5 370.5 279.1 373.4C279.8 376.3 279.9 378.0 279.1 380.8C278.4 383.7 275.3 387.9 274.6 390.6C274.0 393.3 275.4 394.6 275.2 396.9C275.0 399.2 274.2 401.7 273.4 404.4C272.7 407.1 271.1 410.5 270.8 413.2C270.5 415.9 271.0 418.4 271.5 420.7C272.1 423.0 273.8 424.9 274.0 427.0C274.2 429.1 273.5 431.2 272.7 433.3C272.0 435.4 270.3 437.7 269.7 439.5C269.0 441.3 269.5 442.5 269.1 444.3C268.6 446.1 267.7 448.1 266.8 450.3C265.9 452.5 264.1 455.3 263.8 457.7C263.5 460.2 264.6 462.7 265.1 465.2C265.6 467.7 265.5 470.6 266.8 472.6C268.1 474.7 271.6 476.1 273.0 477.6C274.5 479.0 275.8 479.6 275.5 481.3C275.2 482.9 272.2 485.4 271.3 487.5C270.3 489.6 269.6 491.4 269.8 493.7C270.0 496.0 272.6 498.7 272.3 501.2C272.0 503.6 269.1 506.3 268.1 508.6C267.1 510.9 266.1 512.8 266.3 514.8C266.5 516.9 268.2 519.0 269.3 521.0C270.4 523.1 272.6 524.9 273.1 527.2C273.5 529.5 272.4 532.4 271.8 534.7C271.2 536.9 269.3 538.2 269.3 540.9C269.4 543.5 271.6 547.9 272.2 550.6C272.9 553.3 273.2 554.6 273.2 556.9C273.2 559.2 272.7 562.0 272.3 564.4C271.8 566.8 271.4 569.0 270.4 571.3C269.3 573.6 267.4 576.0 266.0 578.2C264.5 580.4 262.6 582.5 261.6 584.5C260.5 586.5 259.7 588.2 259.7 590.1C259.7 592.0 260.5 594.1 261.6 595.8C262.6 597.5 265.0 599.0 266.0 600.2C266.9 601.5 269.0 601.4 267.3 603.3C265.6 605.2 259.5 608.9 255.7 611.6C252.0 614.2 245.2 616.8 244.6 619.0C244.0 621.3 248.9 622.7 252.0 625.2C255.1 627.7 261.6 631.2 263.2 633.9C264.9 636.6 261.4 638.6 262.0 641.3C262.6 644.0 265.7 647.1 266.9 650.0C268.2 652.9 268.6 655.6 269.4 658.7C270.3 661.8 271.7 665.7 271.9 668.6C272.1 671.5 270.3 673.2 270.7 676.0C271.1 678.9 273.9 683.1 274.4 686.0C275.0 688.9 275.0 690.9 273.9 693.4C272.9 695.9 269.4 698.8 268.2 700.9C267.1 702.9 266.8 704.0 267.0 705.8C267.2 707.7 269.1 711.0 269.5 712.0" stroke="#4468B8" stroke-width="1.65"/>
<path d="M317.3 97.9C316.5 98.7 313.2 100.8 312.3 102.9C311.5 104.9 311.7 107.8 312.4 110.3C313.0 112.8 314.4 115.3 316.1 117.8C317.7 120.2 320.7 122.5 322.3 125.2C323.9 127.9 324.9 130.8 325.5 133.9C326.1 137.0 326.4 140.7 326.0 143.8C325.7 146.9 324.0 149.8 323.6 152.5C323.1 155.2 322.7 157.9 323.6 159.9C324.4 162.0 327.3 162.8 328.5 164.9C329.8 166.9 330.7 169.6 331.0 172.3C331.3 175.0 330.9 178.3 330.5 181.0C330.1 183.7 328.5 186.0 328.5 188.5C328.6 190.9 330.9 193.4 331.0 195.9C331.2 198.4 330.5 200.9 329.3 203.3C328.1 205.8 325.1 208.3 323.6 210.8C322.1 213.3 320.9 215.2 320.4 218.3C319.9 221.3 320.1 226.5 320.6 229.2C321.1 231.8 321.9 232.6 323.4 234.2C324.9 235.7 327.3 237.2 329.6 238.5C331.9 239.9 335.2 241.2 337.2 242.3C339.2 243.5 340.8 244.5 341.6 245.4C342.4 246.4 342.6 247.1 342.2 248.0C341.8 249.0 340.9 250.1 339.0 251.1C337.1 252.2 333.5 253.2 330.9 254.2C328.3 255.3 325.4 256.4 323.4 257.5C321.4 258.5 320.2 259.2 319.0 260.6C317.8 261.9 317.1 263.7 316.4 265.6C315.7 267.5 315.2 269.8 314.6 271.9C314.0 274.0 313.1 276.1 312.7 278.2C312.3 280.2 312.0 282.4 312.3 284.2C312.7 286.0 313.3 286.5 315.0 288.9C316.7 291.4 320.2 296.2 322.4 298.8C324.7 301.5 327.5 303.4 328.6 305.0C329.8 306.7 330.0 307.1 329.4 308.7C328.8 310.4 326.9 312.7 324.9 315.0C322.9 317.2 319.3 319.9 317.5 322.4C315.6 324.9 314.6 327.2 313.8 329.9C312.9 332.6 312.4 335.5 312.5 338.6C312.7 341.7 313.3 345.2 314.5 348.5C315.8 351.8 317.8 355.3 320.0 358.4C322.1 361.5 325.7 364.7 327.4 367.1C329.2 369.5 330.7 370.9 330.7 372.8C330.7 374.6 329.0 376.3 327.5 378.2C325.9 380.2 322.7 382.0 321.3 384.5C319.8 386.9 319.3 390.5 318.8 393.2C318.2 395.8 318.7 398.1 318.0 400.6C317.4 403.1 316.2 405.8 315.1 408.1C314.0 410.3 312.1 411.9 311.4 414.2C310.6 416.5 310.5 419.0 310.6 421.6C310.7 424.3 311.4 427.6 312.1 430.3C312.8 433.0 314.8 435.5 314.6 437.8C314.4 440.0 311.8 441.7 310.6 444.0C309.5 446.3 308.0 448.5 307.7 451.4C307.3 454.3 307.8 458.0 308.4 461.4C309.0 464.7 310.3 468.5 311.4 471.3C312.5 474.1 315.1 476.1 315.1 478.2C315.1 480.3 312.4 481.5 311.4 483.7C310.4 485.8 309.5 488.2 308.9 491.1C308.4 494.0 308.3 497.8 308.2 501.1C308.1 504.4 307.8 507.7 308.2 511.0C308.6 514.3 310.7 518.0 310.7 520.9C310.7 523.8 309.1 525.9 308.2 528.4C307.3 530.8 305.7 532.9 305.2 535.8C304.8 538.7 305.2 542.2 305.3 545.7C305.3 549.2 305.5 553.3 305.7 556.8C306.0 560.3 306.4 563.7 306.7 566.8C307.0 569.9 307.6 572.9 307.6 575.6C307.5 578.3 306.7 580.6 306.3 583.1C305.9 585.6 305.1 588.4 305.1 590.7C305.0 593.0 305.6 594.7 306.1 596.9C306.6 599.2 307.1 602.2 308.0 604.2C308.9 606.2 310.1 606.1 311.5 608.9C312.9 611.8 315.2 617.2 316.5 621.3C317.7 625.5 319.1 630.2 319.0 633.7C318.9 637.3 316.4 639.9 315.8 642.4C315.1 644.9 314.8 646.2 315.3 648.6C315.7 651.1 317.4 654.4 318.2 657.3C319.1 660.2 320.4 662.9 320.2 666.0C320.1 669.1 318.4 672.6 317.3 675.9C316.1 679.2 314.1 683.0 313.3 685.9C312.6 688.8 312.3 690.8 312.8 693.3C313.4 695.8 315.3 698.3 316.5 700.7C317.8 703.2 319.6 706.3 320.3 708.2C321.0 710.0 320.7 711.3 320.8 711.9" stroke="#4468B8" stroke-width="1.9" stroke-dasharray="6.2 2.2"/>
<path d="M321.0 97.9C320.4 98.7 317.8 100.8 317.3 102.9C316.8 104.9 316.8 107.6 317.8 110.3C318.8 113.0 321.3 116.3 323.5 119.0C325.7 121.7 328.9 123.7 331.0 126.4C333.0 129.1 335.0 132.2 335.9 135.1C336.9 138.0 337.1 140.9 336.7 143.8C336.3 146.7 334.2 150.0 333.5 152.5C332.7 154.9 331.4 156.8 332.2 158.7C333.1 160.5 336.6 161.5 338.5 163.6C340.3 165.7 342.7 168.4 343.4 171.0C344.1 173.7 343.4 176.8 342.7 179.7C342.0 182.6 339.3 185.7 339.2 188.4C339.1 191.1 342.3 193.4 342.2 195.9C342.1 198.3 340.3 201.0 338.5 203.3C336.6 205.6 332.9 207.1 331.0 209.5C329.2 212.0 328.1 215.2 327.3 218.2C326.6 221.3 326.3 225.7 326.5 228.0C326.7 230.2 327.1 230.3 328.4 231.6C329.6 233.0 331.7 234.7 334.0 236.0C336.3 237.4 339.6 238.6 342.2 239.8C344.8 241.1 347.7 242.3 349.7 243.6C351.7 244.8 353.7 246.2 354.1 247.3C354.5 248.3 353.8 248.9 352.2 249.8C350.6 250.6 347.6 251.3 344.7 252.3C341.8 253.3 337.8 254.5 334.7 255.5C331.6 256.6 328.1 257.6 325.9 258.7C323.8 259.7 322.9 260.5 321.8 261.9C320.8 263.2 320.4 265.0 319.6 266.9C318.8 268.8 318.0 271.3 317.1 273.2C316.3 275.1 315.2 276.3 314.6 278.2C314.1 280.0 313.5 282.4 313.7 284.2C314.0 286.0 314.1 286.7 316.2 288.9C318.3 291.2 322.8 295.1 326.2 297.6C329.5 300.1 334.1 302.0 336.1 303.8C338.0 305.5 338.2 306.4 337.8 308.2C337.4 310.1 336.0 312.6 333.6 314.9C331.3 317.3 326.6 319.9 323.7 322.4C320.8 324.9 317.7 327.2 316.2 329.9C314.8 332.6 314.8 335.5 315.0 338.6C315.2 341.7 315.8 345.2 317.5 348.5C319.2 351.8 322.1 355.3 325.0 358.4C327.9 361.5 332.3 364.7 334.9 367.0C337.5 369.4 340.4 370.9 340.6 372.7C340.8 374.6 338.3 376.3 336.1 378.2C334.0 380.2 329.3 382.0 327.5 384.4C325.6 386.9 325.6 390.4 325.0 393.1C324.4 395.8 324.8 398.1 323.8 400.6C322.7 403.1 320.2 405.8 318.8 408.0C317.3 410.3 315.9 411.9 315.1 414.2C314.3 416.4 313.8 418.9 313.8 421.6C313.9 424.3 314.9 427.6 315.6 430.3C316.3 433.0 318.4 435.5 318.1 437.8C317.8 440.0 315.1 441.7 313.9 444.0C312.6 446.2 311.1 448.5 310.6 451.4C310.2 454.3 310.6 458.0 311.4 461.3C312.1 464.7 313.9 468.5 315.1 471.3C316.4 474.1 318.8 476.1 318.9 478.2C318.9 480.3 316.2 481.5 315.1 483.7C314.0 485.8 312.8 488.2 312.2 491.1C311.5 494.0 311.5 497.7 311.4 501.1C311.3 504.4 311.0 507.7 311.4 511.0C311.8 514.3 313.9 518.0 313.9 520.9C313.9 523.8 312.4 525.9 311.4 528.4C310.5 530.8 308.6 532.9 308.2 535.8C307.8 538.7 308.8 542.2 309.0 545.7C309.1 549.2 308.9 553.3 309.1 556.8C309.4 560.3 310.0 563.7 310.5 566.8C310.9 569.9 311.8 572.9 311.7 575.6C311.5 578.3 310.4 580.8 309.8 583.1C309.2 585.4 308.1 587.3 308.0 589.4C307.9 591.5 308.4 593.2 309.2 595.7C309.9 598.2 311.2 602.0 312.4 604.2C313.6 606.4 314.8 606.1 316.5 608.9C318.2 611.8 320.9 617.2 322.7 621.3C324.5 625.4 327.2 630.2 327.2 633.7C327.2 637.2 323.7 639.9 322.7 642.4C321.8 644.9 321.1 646.1 321.5 648.6C321.9 651.1 324.2 654.4 325.2 657.3C326.2 660.2 327.9 662.9 327.7 666.0C327.5 669.1 325.4 672.6 324.0 675.9C322.5 679.2 320.0 683.0 319.0 685.9C318.0 688.7 317.4 690.8 317.8 693.3C318.2 695.8 319.9 698.3 321.5 700.7C323.2 703.2 326.6 706.3 327.7 708.2C328.8 710.0 328.1 711.3 328.2 711.9" stroke="#C5842B" stroke-width="1.9"/>
</g>
<g stroke="#2b2b2b" stroke-width="1.7" fill="none">
<line x1="1.8" y1="0.4" x2="1.8" y2="714.0"/>
<line x1="68.2" y1="0.4" x2="68.2" y2="714.0"/>
<line x1="122.3" y1="0.4" x2="122.3" y2="714.0"/>
<line x1="204.6" y1="0.4" x2="204.6" y2="714.0"/>
<line x1="287.9" y1="0.4" x2="287.9" y2="714.0"/>
<line x1="374.3" y1="0.4" x2="374.3" y2="714.0"/>
<line x1="436.0" y1="0.4" x2="436.0" y2="714.0"/>
<line x1="497.9" y1="0.4" x2="497.9" y2="714.0"/>
<line x1="559.8" y1="0.4" x2="559.8" y2="714.0"/>
<line x1="621.6" y1="0.4" x2="621.6" y2="714.0"/>
<line x1="683.8" y1="0.4" x2="683.8" y2="714.0"/>
<line x1="1.1" y1="1.1" x2="684.5" y2="1.1"/>
<line x1="1.1" y1="97.7" x2="684.5" y2="97.7"/>
<line x1="1.1" y1="713.2" x2="684.5" y2="713.2"/>
<line x1="68.2" y1="633.45" x2="122.3" y2="633.45"/>
<line x1="122.3" y1="46.15" x2="204.6" y2="46.15"/>
</g>
<g stroke="#2b2b2b">
<line x1="62.7" y1="114.2" x2="68" y2="114.2" stroke-width="1.1"/>
<line x1="62.7" y1="135.0" x2="68" y2="135.0" stroke-width="1.1"/>
<line x1="62.7" y1="155.8" x2="68" y2="155.8" stroke-width="1.1"/>
<line x1="62.7" y1="176.5" x2="68" y2="176.5" stroke-width="1.1"/>
<line x1="62.7" y1="197.3" x2="68" y2="197.3" stroke-width="1.1"/>
<line x1="62.7" y1="218.1" x2="68" y2="218.1" stroke-width="1.1"/>
<line x1="62.7" y1="238.8" x2="68" y2="238.8" stroke-width="1.1"/>
<line x1="62.7" y1="259.6" x2="68" y2="259.6" stroke-width="1.1"/>
<line x1="62.7" y1="280.4" x2="68" y2="280.4" stroke-width="1.1"/>
<line x1="58.3" y1="301.2" x2="68" y2="301.2" stroke-width="1.6"/>
<line x1="62.7" y1="321.9" x2="68" y2="321.9" stroke-width="1.1"/>
<line x1="62.7" y1="342.7" x2="68" y2="342.7" stroke-width="1.1"/>
<line x1="62.7" y1="363.5" x2="68" y2="363.5" stroke-width="1.1"/>
<line x1="62.7" y1="384.3" x2="68" y2="384.3" stroke-width="1.1"/>
<line x1="62.7" y1="405.0" x2="68" y2="405.0" stroke-width="1.1"/>
<line x1="62.7" y1="425.8" x2="68" y2="425.8" stroke-width="1.1"/>
<line x1="62.7" y1="446.6" x2="68" y2="446.6" stroke-width="1.1"/>
<line x1="62.7" y1="467.4" x2="68" y2="467.4" stroke-width="1.1"/>
<line x1="62.7" y1="488.1" x2="68" y2="488.1" stroke-width="1.1"/>
<line x1="58.3" y1="508.9" x2="68" y2="508.9" stroke-width="1.6"/>
<line x1="62.7" y1="529.7" x2="68" y2="529.7" stroke-width="1.1"/>
<line x1="62.7" y1="550.5" x2="68" y2="550.5" stroke-width="1.1"/>
<line x1="62.7" y1="571.2" x2="68" y2="571.2" stroke-width="1.1"/>
<line x1="62.7" y1="592.0" x2="68" y2="592.0" stroke-width="1.1"/>
<line x1="62.7" y1="612.8" x2="68" y2="612.8" stroke-width="1.1"/>
<line x1="62.7" y1="633.6" x2="68" y2="633.6" stroke-width="1.1"/>
<line x1="62.7" y1="654.4" x2="68" y2="654.4" stroke-width="1.1"/>
<line x1="62.7" y1="675.1" x2="68" y2="675.1" stroke-width="1.1"/>
<line x1="62.7" y1="695.9" x2="68" y2="695.9" stroke-width="1.1"/>
</g>
<text x="13.7" y="123.8" font-size="18.5" fill="#2e2e2e" stroke="#2e2e2e" textLength="40.5" lengthAdjust="spacing" >3401</text>
<text x="8.4" y="309.8" font-size="18.5" fill="#2e2e2e" stroke="#2e2e2e" textLength="41.5" lengthAdjust="spacing" >3410</text>
<text x="10.4" y="513.2" font-size="18.5" fill="#2e2e2e" stroke="#2e2e2e" textLength="40.8" lengthAdjust="spacing" >3420</text>
<text x="14.2" y="696.6" font-size="18.5" fill="#2e2e2e" stroke="#2e2e2e" textLength="40.7" lengthAdjust="spacing" >3429</text>
<text x="8.8" y="47.7" font-size="19.5" fill="#2e2e2e" stroke="#2e2e2e" textLength="51.2" lengthAdjust="spacing" >Depth</text>
<text x="19.6" y="69.2" font-size="19.5" fill="#2e2e2e" stroke="#2e2e2e" textLength="29.5" lengthAdjust="spacing" >(m)</text>
<text transform="translate(98.7 94.9) rotate(-90)" font-size="19.5" fill="#2e2e2e" stroke="#2e2e2e" textLength="90.5" lengthAdjust="spacing">Straigrapy</text>
<text transform="translate(102.2 422.0) rotate(-90)" font-size="19" fill="#2e2e2e" stroke="#2e2e2e" textLength="123.5" lengthAdjust="spacing">Lower Liang 2</text>
<text x="137.1" y="43.6" font-size="13" fill="#2e2e2e" stroke="#2e2e2e" textLength="51.2" lengthAdjust="spacing" >GR(API)</text>
<text x="122.6" y="58.0" font-size="13.2" fill="#2e2e2e" stroke="#2e2e2e" textLength="4.0" lengthAdjust="spacing" >0</text>
<text x="182.8" y="57.8" font-size="13.2" fill="#2e2e2e" stroke="#2e2e2e" textLength="18.9" lengthAdjust="spacing" >200</text>
<line x1="204.6" y1="16.95" x2="287.9" y2="16.95" stroke="#4468B8" stroke-width="1.5"/>
<line x1="204.6" y1="46.35" x2="287.9" y2="46.35" stroke="#E8262B" stroke-width="1.5"/>
<line x1="205.4" y1="77.75" x2="287.2" y2="77.75" stroke="#111" stroke-width="1.5" stroke-dasharray="2.6 1.9"/>
<text x="219.7" y="13.2" font-size="13" fill="#2e2e2e" stroke="#2e2e2e" textLength="54.1" lengthAdjust="spacing" >DT(μs/ft)</text>
<text x="206.2" y="28.9" font-size="13.2" fill="#4468B8" stroke="#4468B8" textLength="18.8" lengthAdjust="spacing" >140</text>
<text x="273.3" y="28.7" font-size="13.2" fill="#4468B8" stroke="#4468B8" textLength="12.5" lengthAdjust="spacing" >40</text>
<text x="211.0" y="42.7" font-size="13" fill="#2e2e2e" stroke="#2e2e2e" textLength="71.0" lengthAdjust="spacing" >DEN(g/cm³)</text>
<text x="212.5" y="57.7" font-size="13.2" fill="#E8262B" stroke="#E8262B" textLength="5.5" lengthAdjust="spacing" >2</text>
<text x="277.0" y="57.6" font-size="13.2" fill="#E8262B" stroke="#E8262B" textLength="5.2" lengthAdjust="spacing" >3</text>
<text x="221.9" y="73.5" font-size="13" fill="#2e2e2e" stroke="#2e2e2e" textLength="48.2" lengthAdjust="spacing" >CNL(%)</text>
<text x="209.3" y="89.2" font-size="13.2" fill="#2e2e2e" stroke="#2e2e2e" textLength="12.6" lengthAdjust="spacing" >42</text>
<text x="273.4" y="89.0" font-size="13.2" fill="#2e2e2e" stroke="#2e2e2e" textLength="12.5" lengthAdjust="spacing" >18</text>
<line x1="287.9" y1="28.75" x2="374.3" y2="28.75" stroke="#C5842B" stroke-width="1.5"/>
<line x1="287.9" y1="63.25" x2="374.3" y2="63.25" stroke="#4468B8" stroke-width="1.5" stroke-dasharray="6 2.4"/>
<text x="305.1" y="25.6" font-size="13" fill="#2e2e2e" stroke="#2e2e2e" textLength="52.8" lengthAdjust="spacing" >RT(Ω·m)</text>
<text x="293.8" y="40.7" font-size="13.2" fill="#C5842B" stroke="#C5842B" textLength="5.8" lengthAdjust="spacing" >2</text>
<text x="352.9" y="40.6" font-size="13.2" fill="#C5842B" stroke="#C5842B" textLength="19.6" lengthAdjust="spacing" >100</text>
<text x="301.4" y="60.2" font-size="13" fill="#2e2e2e" stroke="#2e2e2e" textLength="59.0" lengthAdjust="spacing" >Rxo(Ω·m)</text>
<text x="292.7" y="75.3" font-size="13.2" fill="#4468B8" stroke="#4468B8" textLength="5.5" lengthAdjust="spacing" >2</text>
<text x="353.7" y="75.2" font-size="13.2" fill="#4468B8" stroke="#4468B8" textLength="18.9" lengthAdjust="spacing" >100</text>
<text x="392.2" y="51.8" font-size="13" fill="#2e2e2e" stroke="#2e2e2e" textLength="25.2" lengthAdjust="spacing" >True</text>
<text x="438.4" y="51.7" font-size="13" fill="#2e2e2e" stroke="#2e2e2e" textLength="58.0" lengthAdjust="spacing" >PSO-MLP</text>
<text x="513.8" y="51.5" font-size="13" fill="#2e2e2e" stroke="#2e2e2e" textLength="29.8" lengthAdjust="spacing" >SVM</text>
<text x="564.8" y="51.3" font-size="13" fill="#2e2e2e" stroke="#2e2e2e" textLength="54.0" lengthAdjust="spacing" >XGBoost</text>
<text x="644.0" y="51.1" font-size="13" fill="#2e2e2e" stroke="#2e2e2e" textLength="16.0" lengthAdjust="spacing" >RF</text>
</g>
<rect x="4.8" y="723.3" width="32.8" height="17.8" fill="#D63D52"/>
<rect x="4.8" y="747.3" width="32.8" height="19" fill="#633C94"/>
<text x="47.0" y="738.9" font-size="13.7" fill="#2e2e2e" stroke="#2e2e2e" >MOLS</text>
<text x="47.0" y="762.8" font-size="13.7" fill="#2e2e2e" stroke="#2e2e2e" >ORLFS</text>
<rect x="151.4" y="723.3" width="32.8" height="17.8" fill="#1A2E6C"/>
<rect x="151.4" y="747.3" width="32.8" height="19" fill="#EC734D"/>
<text x="193.2" y="738.9" font-size="13.7" fill="#2e2e2e" stroke="#2e2e2e" >MOLFS</text>
<text x="193.2" y="762.8" font-size="13.7" fill="#2e2e2e" stroke="#2e2e2e" >LOLFSb</text>
<rect x="294.8" y="723.3" width="32.8" height="17.8" fill="#F6BB8A"/>
<rect x="294.8" y="747.3" width="32.8" height="19" fill="#1F9FD9"/>
<text x="339.9" y="738.9" font-size="13.7" fill="#2e2e2e" stroke="#2e2e2e" >LOLFSa</text>
<text x="339.9" y="762.8" font-size="13.7" fill="#2e2e2e" stroke="#2e2e2e" >MOLMS</text>
<rect x="427.0" y="723.3" width="32.8" height="17.8" fill="#373B3E"/>
<rect x="427.0" y="747.3" width="32.8" height="19" fill="#6DB894"/>
<text x="470.7" y="738.9" font-size="13.7" fill="#2e2e2e" stroke="#2e2e2e" >MOLCS</text>
<text x="470.7" y="762.8" font-size="13.7" fill="#2e2e2e" stroke="#2e2e2e" >LOMFM</text>
</svg></body></html>
